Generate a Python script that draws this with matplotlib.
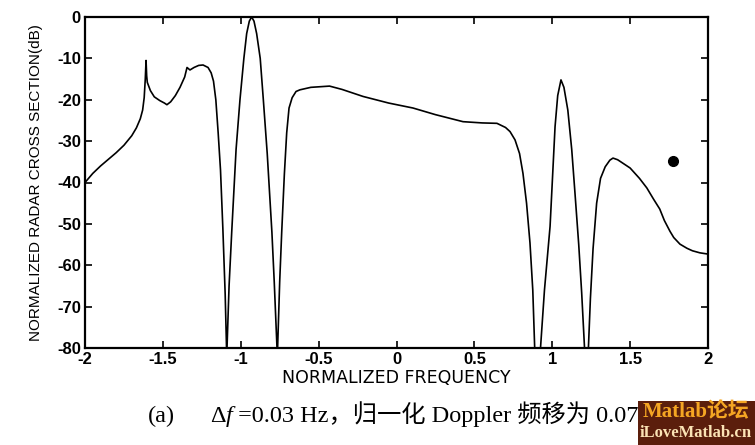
import matplotlib
matplotlib.use("Agg")
import matplotlib.pyplot as plt
from matplotlib.patches import Rectangle

plt.rcParams["axes.unicode_minus"] = False

# normalized frequency / RCS (dB)
freq = [-2.00, -1.95, -1.90, -1.85, -1.80, -1.75, -1.70, -1.67, -1.645, -1.63,
        -1.62, -1.613, -1.608, -1.604, -1.60, -1.58, -1.555, -1.52, -1.49, -1.474,
        -1.45, -1.42, -1.39, -1.36, -1.345, -1.326, -1.30, -1.27, -1.242, -1.21,
        -1.19, -1.175, -1.16, -1.145, -1.13, -1.115, -1.10, -1.09, -1.075, -1.058,
        -1.03, -1.005, -0.98, -0.962, -0.945, -0.93, -0.915, -0.898, -0.875, -0.855,
        -0.83, -0.80, -0.785, -0.765, -0.75, -0.737, -0.72, -0.705, -0.69, -0.67,
        -0.645, -0.62, -0.55, -0.43, -0.35, -0.215, -0.05, 0.106, 0.25, 0.427,
        0.55, 0.645, 0.70, 0.729, 0.761, 0.79, 0.812, 0.835, 0.857, 0.875,
        0.889, 0.905, 0.921, 0.95, 0.986, 1.018, 1.035, 1.056, 1.075, 1.10,
        1.125, 1.146, 1.17, 1.189, 1.21, 1.23, 1.245, 1.262, 1.285, 1.31,
        1.34, 1.37, 1.39, 1.42, 1.46, 1.50, 1.56, 1.607, 1.65, 1.69,
        1.72, 1.756, 1.78, 1.82, 1.865, 1.90, 1.948, 2.00]
rcs = [-40.0, -37.8, -36.0, -34.4, -32.8, -31.0, -28.7, -26.8, -24.6, -22.5,
       -19.5, -15.0, -10.5, -14.2, -15.8, -17.8, -19.3, -20.2, -20.8, -21.2,
       -20.5, -19.0, -17.0, -14.5, -12.2, -12.8, -12.2, -11.7, -11.6, -12.2,
       -13.5, -15.5, -20.0, -28.0, -37.0, -51.0, -67.0, -82.0, -65.0, -52.0,
       -32.0, -20.0, -10.0, -4.0, -1.0, 0.0, -1.0, -4.0, -10.0, -20.0,
       -33.0, -52.0, -64.0, -82.0, -64.0, -52.0, -38.0, -28.0, -22.0, -19.5,
       -18.0, -17.6, -17.0, -16.7, -17.5, -19.2, -20.8, -22.0, -23.6, -25.3,
       -25.6, -25.7, -26.7, -27.7, -29.7, -33.0, -37.8, -45.0, -54.6, -66.0,
       -82.0, -82.0, -82.0, -66.0, -50.6, -26.5, -19.0, -15.2, -17.0, -22.5,
       -32.0, -42.6, -55.0, -66.7, -82.0, -82.0, -68.0, -56.0, -45.0, -39.0,
       -36.2, -34.6, -34.1, -34.5, -35.5, -36.5, -39.0, -41.3, -44.0, -46.4,
       -49.2, -51.8, -53.3, -54.9, -55.9, -56.5, -57.0, -57.3]

dot_f, dot_db = [1.773], [-34.7]

xticks = [-2, -1.5, -1, -0.5, 0, 0.5, 1, 1.5, 2]
yticks = [0, -10, -20, -30, -40, -50, -60, -70, -80]

W, H = 755, 445
fig = plt.figure(figsize=(W / 100, H / 100), dpi=100)
ax = fig.add_axes([85 / W, 1 - 348 / H, 623 / W, 331 / H])

ax.plot(freq, rcs, color="black", lw=1.2)
ax.plot(dot_f, dot_db, "o", color="black", ms=7)

ax.set_xlim(-2, 2)
ax.set_ylim(-80, 0)
ax.set_xticks(xticks)
ax.set_xticklabels([f"{t:g}" for t in xticks])
ax.set_yticks(yticks)
ax.tick_params(direction="in", length=5, width=1.2, top=True, right=True,
               labelsize=12, pad=3)
for lab in ax.get_xticklabels() + ax.get_yticklabels():
    lab.set_family("Liberation Sans")
    lab.set_fontweight("bold")
for sp in ax.spines.values():
    sp.set_linewidth(1.6)

ax.set_xlabel("NORMALIZED FREQUENCY", fontsize=12.5, family="DejaVu Sans", labelpad=1)
ax.set_ylabel("NORMALIZED RADAR CROSS SECTION(dB)", fontsize=11,
              family="Liberation Sans", labelpad=10)

# caption, built piece by piece so the italic f sits right after the delta
r = fig.canvas.get_renderer()
fam = ["Liberation Serif", "Noto Sans CJK SC"]
yb = 1 - 422 / H

def put(x, s, **kw):
    t = fig.text(x / W, yb, s, family=fam, fontsize=17.5, va="baseline", **kw)
    return t.get_window_extent(r).x1

put(148, "(a)")
x = put(210, "Δ")
x = put(x, "f", style="italic")
x = put(x, " =0.03 Hz，归一化 Doppler 频移为 0.07")

# forum watermark in the bottom right corner
fig.patches.append(Rectangle((638 / W, 0), 117 / W, 44 / H, transform=fig.transFigure,
                             facecolor="#5b1e0c", edgecolor="none", zorder=5))
fig.text(696 / W, 1 - 412 / H, "Matlab论坛", family=["Liberation Serif", "Noto Sans CJK SC"],
         fontsize=15, fontweight="bold", color="#f5a623", ha="center", va="center", zorder=6)
fig.text(696 / W, 1 - 433 / H, "iLoveMatlab.cn", family="Liberation Serif",
         fontsize=12, fontweight="bold", color="#fbe3b5", ha="center", va="center", zorder=6)

fig.savefig("out.png", dpi=100)
